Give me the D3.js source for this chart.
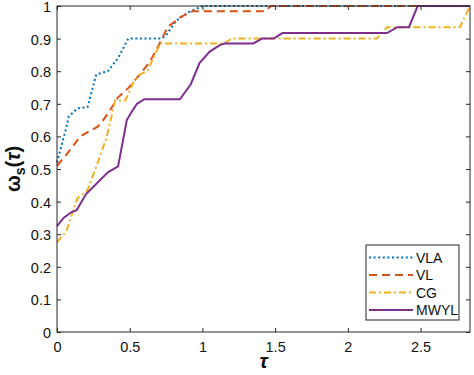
<!DOCTYPE html>
<html>
<head>
<meta charset="utf-8">
<script src="https://cdn.jsdelivr.net/npm/d3@7"></script>
<style>
  body { margin: 0; background: #fff; }
  svg { font-family: "Liberation Sans", Arial, sans-serif; }
</style>
</head>
<body>
<div id="chart"></div>
<script>
// Series data (tau, omega_s)
const vlaT = [0, 0.03, 0.06, 0.08, 0.14, 0.21, 0.27, 0.35, 0.42, 0.49, 0.72, 0.75, 0.82, 0.9, 1.0, 2.84];
const vlaV = [0.52, 0.57, 0.62, 0.66, 0.686, 0.69, 0.79, 0.80, 0.84, 0.90, 0.90, 0.91, 0.955, 0.98, 1.0, 1.0];

const vlT = [0, 0.075, 0.16, 0.28, 0.31, 0.35, 0.42, 0.49, 0.57, 0.64, 0.70, 0.76, 0.85, 0.93, 1.43, 1.47, 2.84];
const vlV = [0.51, 0.55, 0.60, 0.63, 0.645, 0.67, 0.72, 0.748, 0.79, 0.83, 0.88, 0.935, 0.966, 0.984, 0.984, 1.0, 1.0];

const cgT = [0, 0.065, 0.14, 0.21, 0.28, 0.34, 0.40, 0.47, 0.53, 0.57, 0.62, 0.71, 1.15, 1.2, 2.2, 2.27, 2.77, 2.84];
const cgV = [0.275, 0.31, 0.41, 0.435, 0.52, 0.595, 0.71, 0.71, 0.77, 0.79, 0.80, 0.885, 0.885, 0.90, 0.90, 0.935, 0.935, 1.0];

const mwylT = [0, 0.045, 0.1, 0.135, 0.2, 0.35, 0.42, 0.48, 0.52, 0.55, 0.60, 0.845, 0.92, 0.98, 1.05, 1.12, 1.15, 1.35, 1.41, 1.49, 1.55, 2.27, 2.34, 2.42, 2.48, 2.84];
const mwylV = [0.325, 0.35, 0.368, 0.374, 0.423, 0.49, 0.508, 0.65, 0.68, 0.70, 0.714, 0.714, 0.76, 0.825, 0.86, 0.88, 0.885, 0.885, 0.90, 0.90, 0.917, 0.917, 0.935, 0.935, 1.0, 1.0];

const seriesNames = ["VLA", "VL", "CG", "MWYL"];
const xTicks = [0, 0.5, 1, 1.5, 2, 2.5];
const yTicks = [0, 0.1, 0.2, 0.3, 0.4, 0.5, 0.6, 0.7, 0.8, 0.9, 1];

const series = [
  { name: seriesNames[0], t: vlaT, v: vlaV, color: "#0072BD", dash: "2,2.6" },
  { name: seriesNames[1], t: vlT, v: vlV, color: "#D95319", dash: "8,5" },
  { name: seriesNames[2], t: cgT, v: cgV, color: "#EDB120", dash: "7,3,2,3" },
  { name: seriesNames[3], t: mwylT, v: mwylV, color: "#7E2F8E", dash: null }
];

// Layout
const W = 474, H = 375;
const margin = { top: 6, right: 4, bottom: 43, left: 57 },
      width = W - margin.left - margin.right,
      height = H - margin.top - margin.bottom;

const svg = d3.select("#chart")
  .append("svg")
  .attr("width", W)
  .attr("height", H);

const g = svg.append("g")
  .attr("transform", `translate(${margin.left},${margin.top})`);

// Scales
const x = d3.scaleLinear().domain([0, 2.84]).range([0, width]);
const y = d3.scaleLinear().domain([0, 1]).range([height, 0]);

const axisColor = "#262626";

// Axes (ticks inward, box on)
g.append("g")
  .attr("transform", `translate(0,${height})`)
  .call(d3.axisBottom(x).tickValues(xTicks).tickSize(-4).tickPadding(10).tickFormat(d3.format("")))
  .call(a => a.select(".domain").remove());

g.append("g")
  .call(d3.axisTop(x).tickValues(xTicks).tickSize(-4).tickFormat(""))
  .call(a => a.select(".domain").remove());

g.append("g")
  .attr("class", "y-axis")
  .call(d3.axisLeft(y).tickValues(yTicks).tickSize(-4).tickPadding(6).tickFormat(d3.format("")))
  .call(a => a.select(".domain").remove());

g.append("g")
  .attr("transform", `translate(${width},0)`)
  .call(d3.axisRight(y).tickValues(yTicks).tickSize(-4).tickFormat(""))
  .call(a => a.select(".domain").remove());

g.selectAll(".tick line").attr("stroke", axisColor);
g.selectAll(".tick text")
  .attr("fill", "#111")
  .style("font-size", "14.5px");
g.selectAll(".y-axis .tick text").attr("dy", "0.38em");

// Lines
const line = d3.line()
  .x(d => x(d[0]))
  .y(d => y(d[1]));

series.forEach(s => {
  const pts = s.t.map((t, i) => [t, s.v[i]]);
  g.append("path")
    .datum(pts)
    .attr("fill", "none")
    .attr("stroke", s.color)
    .attr("stroke-width", 2)
    .attr("stroke-dasharray", s.dash)
    .attr("d", line);
});

// Box
g.append("rect")
  .attr("width", width)
  .attr("height", height)
  .attr("fill", "none")
  .attr("stroke", axisColor)
  .attr("stroke-width", 1);

// Legend
const legend = svg.append("g").attr("transform", "translate(366,245)");
legend.append("rect")
  .attr("width", 93)
  .attr("height", 75)
  .attr("fill", "#fff")
  .attr("stroke", axisColor);

series.forEach((s, i) => {
  const ly = 12.5 + i * 17.5;
  legend.append("line")
    .attr("x1", 3).attr("x2", 47)
    .attr("y1", ly).attr("y2", ly)
    .attr("stroke", s.color)
    .attr("stroke-width", 2)
    .attr("stroke-dasharray", s.dash);
  legend.append("text")
    .attr("x", 50)
    .attr("y", ly + 5)
    .style("font-size", "14px")
    .attr("fill", "#111")
    .text(s.name);
});

// Axis titles
svg.append("text")
  .attr("x", margin.left + width / 2)
  .attr("y", 368)
  .attr("text-anchor", "middle")
  .style("font-size", "20px")
  .style("font-weight", "bold")
  .style("font-style", "italic")
  .attr("fill", "#111")
  .text("τ");

const yl = svg.append("text")
  .attr("transform", `translate(20,${margin.top + height / 2}) rotate(-90)`)
  .attr("text-anchor", "middle")
  .style("font-size", "20px")
  .style("font-weight", "bold")
  .attr("fill", "#111");
yl.append("tspan").text("ω");
yl.append("tspan").attr("dy", 5).style("font-size", "14px").text("s");
yl.append("tspan").attr("dy", -5).text("(");
yl.append("tspan").style("font-style", "italic").text("τ");
yl.append("tspan").text(")");
</script>
</body>
</html>
